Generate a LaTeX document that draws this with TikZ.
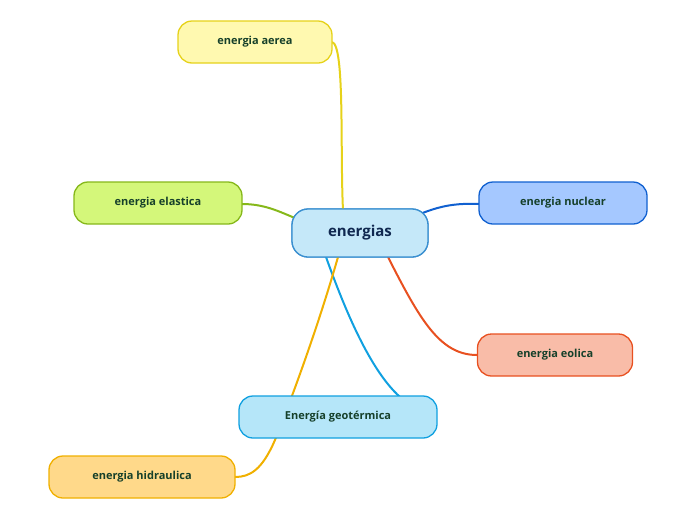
\documentclass[tikz,border=0pt]{standalone}
\usepackage{fontspec}
\setmainfont{Open Sans}
\begin{document}
\begin{tikzpicture}[x=1pt,y=-1pt,line width=1.3pt,
 topic/.style={draw,rounded corners=14pt,minimum height=42pt,font=\fontsize{11}{13}\selectfont\bfseries,inner sep=0pt},
 conn/.style={line width=2pt}]
\useasboundingbox (0,0) rectangle (696,520);
\definecolor{tx}{HTML}{16402A}
\definecolor{cF}{HTML}{C5E8F9}\definecolor{cD}{HTML}{3A8FD0}\definecolor{cT}{HTML}{102850}
\definecolor{aF}{HTML}{FFF9B0}\definecolor{aD}{HTML}{E6D21A}
\definecolor{eF}{HTML}{D4F77A}\definecolor{eD}{HTML}{86B81A}
\definecolor{nF}{HTML}{A5C8FF}\definecolor{nD}{HTML}{1060D0}
\definecolor{oF}{HTML}{F9BCA8}\definecolor{oD}{HTML}{E85020}
\definecolor{gF}{HTML}{B5E6F9}\definecolor{gD}{HTML}{10A0E0}
\definecolor{hF}{HTML}{FFD98A}\definecolor{hD}{HTML}{F0B000}
\node[topic,fill=cF,draw=cD,minimum width=136pt,minimum height=48pt,font=\fontsize{15}{17}\selectfont\bfseries,text=cT,rounded corners=16pt] (c) at (360,233) {energias};
\draw[conn,aD] (332,42) .. controls (345,45) and (340,150) .. (343,210);
\draw[conn,eD] (242,204) .. controls (265,204) and (280,212) .. (295,218);
\draw[conn,nD] (420,214) .. controls (440,206) and (455,203) .. (479,204);
\draw[conn,oD] (388,257) .. controls (420,320) and (440,355) .. (477,355);
\draw[conn,gD] (326,257) .. controls (345,310) and (370,370) .. (400,397);
\draw[conn,hD] (338,257) .. controls (320,320) and (295,390) .. (275,440) .. controls (262,470) and (250,477) .. (235,477);
\node[topic,fill=cF,draw=cD,minimum width=136pt,minimum height=48pt,font=\fontsize{15}{17}\selectfont\bfseries,text=cT,rounded corners=16pt] at (360,233) {energias};
\node[topic,fill=aF,draw=aD,minimum width=154pt,text=tx] (a) at (255,42) {energia aerea};
\node[topic,fill=eF,draw=eD,minimum width=168pt,text=tx] (e) at (158,203) {energia elastica};
\node[topic,fill=nF,draw=nD,minimum width=168pt,text=tx] (n) at (563,203) {energia nuclear};
\node[topic,fill=oF,draw=oD,minimum width=155pt,text=tx] (o) at (555,355) {energia eolica};
\node[topic,fill=gF,draw=gD,minimum width=198pt,text=tx] (g) at (338,417) {Energía geotérmica};
\node[topic,fill=hF,draw=hD,minimum width=186pt,text=tx] (h) at (142,477) {energia hidraulica};
\end{tikzpicture}
\end{document}
